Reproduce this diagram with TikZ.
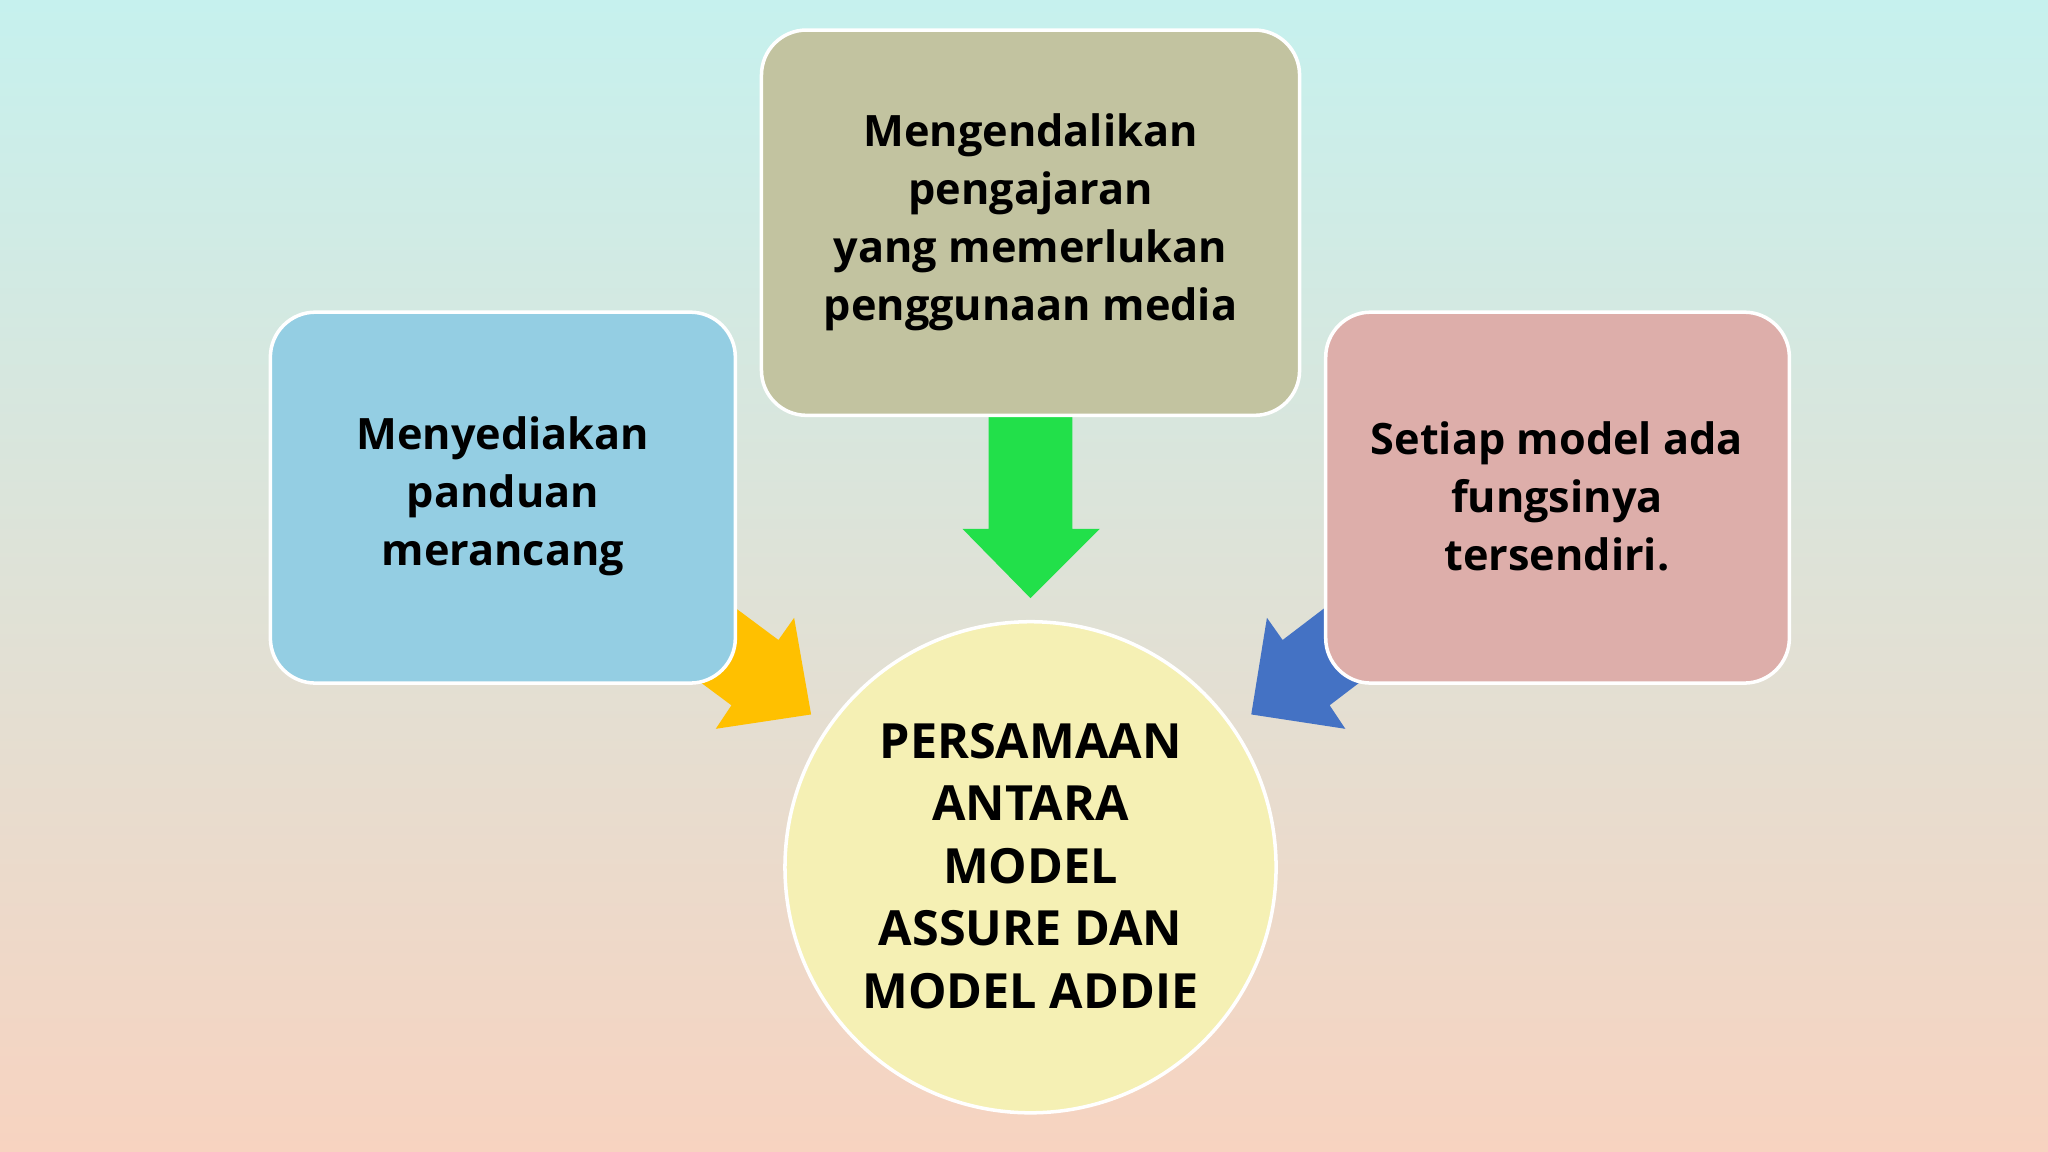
\documentclass[tikz,border=0pt]{standalone}
\usepackage{fontspec}
\setmainfont{Open Sans}
\definecolor{bgtop}{HTML}{C6F1EE}
\definecolor{bgbot}{HTML}{F7D3C0}
\definecolor{bluebox}{HTML}{94CEE3}
\definecolor{olivebox}{HTML}{C2C3A0}
\definecolor{pinkbox}{HTML}{DDAEAA}
\definecolor{circfill}{HTML}{F5F0B4}
\definecolor{garrow}{HTML}{22E04A}
\definecolor{yarrow}{HTML}{FFC000}
\definecolor{barrow}{HTML}{4472C4}
\begin{document}
\begin{tikzpicture}[x=0.013061cm,y=-0.013061cm,
  box/.style={draw=white,line width=1pt,rounded corners=0.45cm},
  lbl/.style={font=\fontsize{12.3}{16.5}\selectfont\bfseries,align=center}]
\shade[top color=bgtop,bottom color=bgbot] (0,0) rectangle (1568,882);
\useasboundingbox (0,0) rectangle (1568,882);
% arrows
\fill[yarrow] (474,476) -- (510,426) -- (596,490) -- (608,473) -- (621,547) -- (548,558) -- (560,540) -- cycle;
\fill[barrow] (1102,476) -- (1066,426) -- (982,490) -- (970,473) -- (958,547) -- (1030,558) -- (1018,540) -- cycle;
\fill[garrow] (757,318) -- (821,318) -- (821,405) -- (842,405) -- (789,458) -- (737,405) -- (757,405) -- cycle;
% boxes
\draw[box,fill=bluebox] (207,239) rectangle (563,523);
\node[lbl] (a) at (385,380) {Menyediakan\\panduan\\merancang};
\draw[box,fill=olivebox] (583,23) rectangle (995,318);
\node[lbl] (b) at (789,170) {Mengendalikan\\pengajaran\\yang memerlukan\\penggunaan media};
\draw[box,fill=pinkbox] (1015,239) rectangle (1370,523);
\node[lbl] (c) at (1192,380) {Setiap model ada\\fungsinya\\tersendiri.};
\draw[draw=white,line width=1pt,fill=circfill] (789,664) circle (188);
\node[font=\fontsize{13.8}{17.8}\selectfont\bfseries,align=center] (d) at (789,663) {PERSAMAAN\\ANTARA\\MODEL\\ASSURE DAN\\MODEL ADDIE};
\end{tikzpicture}
\end{document}
